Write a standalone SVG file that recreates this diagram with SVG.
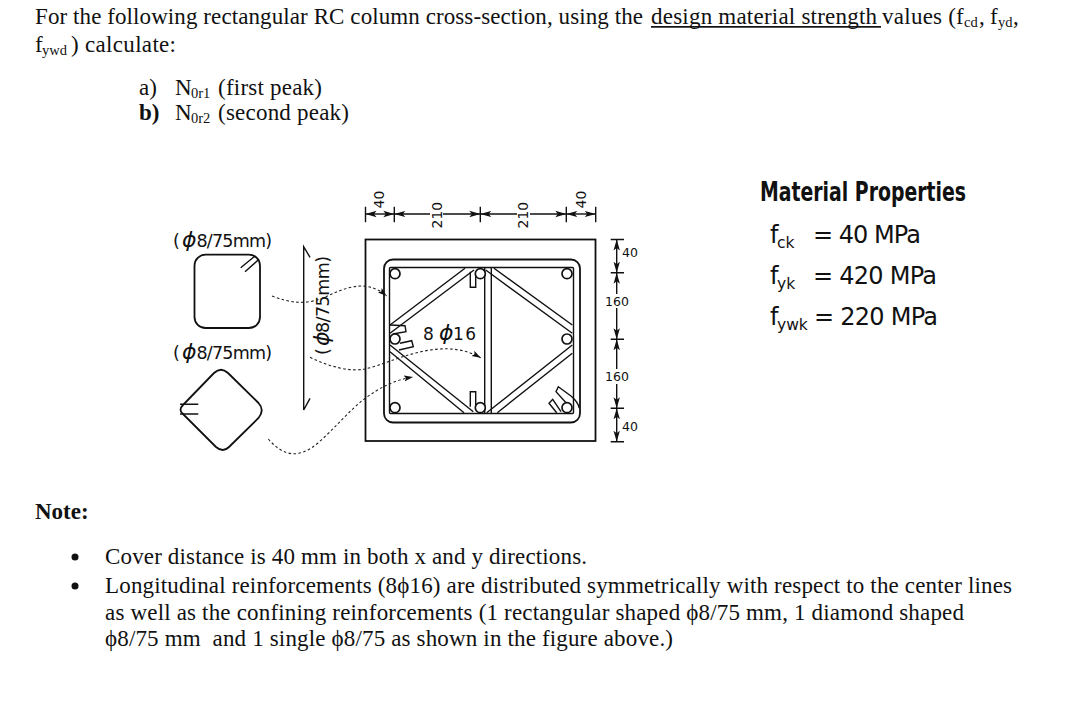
<svg xmlns="http://www.w3.org/2000/svg" width="1085" height="707" viewBox="0 0 1085 707">
<style>
.t{font-family:"Liberation Serif","Times New Roman",serif;font-size:23px;fill:#111}
.s{font-size:14.5px}
.b{font-weight:bold}
.d{font-family:"DejaVu Sans",sans-serif;fill:#111}
.dim{font-size:12.5px}
.dimv{font-size:14px}
.lab{font-size:17.5px}
.phi{font-size:22px;font-weight:200;font-style:italic}
.mp{font-size:24px}
.sub{font-size:15.5px}
.l{fill:none;stroke:#111;stroke-width:1.4}
.l2{fill:none;stroke:#111;stroke-width:1.8}
.dash{fill:none;stroke:#222;stroke-width:1.1;stroke-dasharray:2.6 2.4}
.bar{fill:#fff;stroke:#111;stroke-width:1.7}
</style>
<defs>
<marker id="ah" markerWidth="12" markerHeight="8" refX="11" refY="4" orient="auto-start-reverse" markerUnits="userSpaceOnUse"><path d="M0 0.8L11 4L0 7.2L2.5 4Z" fill="#111"/></marker>
<marker id="da" markerWidth="10" markerHeight="8" refX="9" refY="4" orient="auto" markerUnits="userSpaceOnUse"><path d="M0 1L9 4L0 7L2 4Z" fill="#111"/></marker>
</defs>
<rect width="1085" height="707" fill="#fff"/>
<g id="question">
<text class="t" x="35" y="24" textLength="608">For the following rectangular RC column cross-section, using the</text>
<text class="t" x="651" y="24" textLength="226">design material strength</text>
<text class="t" x="882" y="24" textLength="74">values (</text>
<text class="t" x="956" y="24">f</text>
<text class="t s" x="964" y="27">cd</text>
<text class="t" x="979" y="24">,</text>
<text class="t" x="990" y="24">f</text>
<text class="t s" x="998" y="27">yd</text>
<text class="t" x="1013" y="24">,</text>
<rect x="651" y="26" width="230" height="1.7" fill="#111"/>
<text class="t" x="35" y="52">f</text>
<text class="t s" x="42" y="55">ywd</text>
<text class="t" x="71" y="52" textLength="105">) calculate:</text>
<text class="t" x="139" y="95">a)</text>
<text class="t" x="175" y="95">N</text>
<text class="t s" x="191" y="98">0r1</text>
<text class="t" x="218" y="95" textLength="104">(first peak)</text>
<text class="t b" x="139" y="120">b)</text>
<text class="t" x="175" y="120">N</text>
<text class="t s" x="191" y="123">0r2</text>
<text class="t" x="218" y="120" textLength="131">(second peak)</text>
</g>
<g id="section">
<rect x="365.500" y="239.500" width="230" height="201.500" class="l2"/>
<rect x="384" y="259.500" width="196" height="163" rx="9" class="l2"/>
<rect x="389.500" y="267.500" width="184" height="146" rx="1" class="l"/>
<path class="l" d="M484.700 267.500V413.500M491.300 267.500V413.500"/>
<path class="l" d="M390 325L465 268.300M390 333.300L474 270M494 268.300L572.300 325M485.700 270L572.300 333.300"/>
<path class="l" d="M390 351.700L464 412.700M390 345L473.300 411.700M572.300 345L486.700 412.700M572.300 353.300L497.300 412.700"/>
<path class="l" d="M470.300 271.700V287.300H475.700V271.700M470.300 406.700V391.700H475.700V406.700"/>
<path class="l" d="M390 325L405 325.700L406 331.700L392.700 334M400 343.300L411.700 340.700L413.300 346.700L399 350"/>
<path class="l" d="M566 402.700L556 391.700L558.300 386.700L571 396Q578 402 579.300 408M561 411.700L552.700 399.300L549 403.300L556.700 412.700"/>
<circle class="bar" cx="395" cy="273.700" r="5"/>
<circle class="bar" cx="480.300" cy="273.700" r="5"/>
<circle class="bar" cx="567" cy="273.700" r="5"/>
<circle class="bar" cx="395" cy="339" r="5"/>
<circle class="bar" cx="567" cy="339" r="5"/>
<circle class="bar" cx="395" cy="407.700" r="5"/>
<circle class="bar" cx="480.300" cy="407.700" r="5"/>
<circle class="bar" cx="567" cy="407.700" r="5"/>
<text class="d" x="423" y="340" font-size="17">8</text>
<text class="d phi" x="439" y="340">ϕ</text>
<text class="d" x="453" y="340" font-size="17" textLength="23">16</text>
</g>
<g id="dimensions">
<path class="l" d="M365.500 206.700V222.300M394.300 206.700V222.300M480.300 206.700V222.300M566.300 206.700V222.300M595.700 206.700V222.300"/>
<path class="l" marker-start="url(#ah)" marker-end="url(#ah)" d="M365.500 214H394.300"/>
<path class="l" marker-start="url(#ah)" d="M394.300 214H430"/><path class="l" marker-end="url(#ah)" d="M443 214H480.300"/>
<path class="l" marker-start="url(#ah)" d="M480.300 214H517"/><path class="l" marker-end="url(#ah)" d="M530 214H566.300"/>
<path class="l" marker-start="url(#ah)" marker-end="url(#ah)" d="M566.300 214H595.700"/>
<path class="l" d="M610.700 239.500H624M610.700 272.700H624M610.700 339.300H624M610.700 408.300H624M610.700 441.700H624"/>
<path class="l" marker-start="url(#ah)" marker-end="url(#ah)" d="M616.700 239.500V272.700"/>
<path class="l" marker-start="url(#ah)" d="M616.700 272.700V294"/><path class="l" marker-end="url(#ah)" d="M616.700 308V339.300"/>
<path class="l" marker-start="url(#ah)" d="M616.700 339.300V369"/><path class="l" marker-end="url(#ah)" d="M616.700 384V408.300"/>
<path class="l" marker-start="url(#ah)" marker-end="url(#ah)" d="M616.700 408.300V441.700"/>
<text class="d dimv" transform="translate(384.300 208.500) rotate(-90)">40</text>
<text class="d dimv" transform="translate(441.700 228.500) rotate(-90)">210</text>
<text class="d dimv" transform="translate(528.300 228.500) rotate(-90)">210</text>
<text class="d dimv" transform="translate(585.700 208.500) rotate(-90)">40</text>
<text class="d dim" x="622" y="257">40</text>
<text class="d dim" x="605" y="306">160</text>
<text class="d dim" x="605" y="381">160</text>
<text class="d dim" x="622" y="431">40</text>
</g>
<g id="rect-tie">
<text class="d lab" x="173" y="246.500">(</text>
<text class="d phi" x="182" y="246.500">ϕ</text>
<text class="d lab" x="196.500" y="246.500" textLength="75.500">8/75mm)</text>
<rect x="194.500" y="254.700" width="65.500" height="73.300" rx="11" class="l2"/>
<path class="l" d="M240.700 267.700L255 256M245 271.700L259 259.300"/>
</g>
<g id="diamond-tie">
<text class="d lab" x="173" y="359">(</text>
<text class="d phi" x="182" y="359">ϕ</text>
<text class="d lab" x="196.500" y="359" textLength="75.500">8/75mm)</text>
<path class="l2" d="M214 373Q221 366.500 228 373L258.500 403Q265 410 258.500 418L229 447Q223 453 216 447L183 414Q178 410 183 405Z"/>
<path class="l" d="M180 404.300H198.300M180 414H198.300"/>
</g>
<g id="single-tie">
<path class="l" d="M310 257.300L303.700 246.700V410L310 398.300"/>
<text class="d lab" transform="translate(329 355) rotate(-90)">(</text>
<text class="d phi" transform="translate(329 346) rotate(-90)">ϕ</text>
<text class="d lab" transform="translate(329 333) rotate(-90)" textLength="77">8/75mm)</text>
</g>
<g id="connectors">
<path class="dash" marker-end="url(#da)" d="M272 296C290 303 305 305 323 298C345 288 365 278 386.700 296"/>
<path class="dash" marker-end="url(#da)" d="M310 357.300C330 367 350 372 365 369C395 362 440 335 480.700 357.700"/>
<path class="dash" marker-end="url(#da)" d="M268.300 439C285 458 300 458 318 443C335 428 350 410 363 400C380 387 395 380 413 377"/>
</g>
<g id="properties">
<text class="d" x="760" y="200.500" font-size="26" font-weight="bold" textLength="206" lengthAdjust="spacingAndGlyphs">Material Properties</text>
<text class="d mp" x="770" y="243">f</text><text class="d sub" x="777" y="248">ck</text>
<text class="d mp" x="813" y="243" textLength="108">= 40 MPa</text>
<text class="d mp" x="770" y="284">f</text><text class="d sub" x="777" y="289">yk</text>
<text class="d mp" x="813" y="284" textLength="124">= 420 MPa</text>
<text class="d mp" x="770" y="325">f</text><text class="d sub" x="777" y="330">ywk</text>
<text class="d mp" x="814" y="325" textLength="124">= 220 MPa</text>
</g>
<g id="note">
<text class="t b" x="35" y="519">Note:</text>
<circle cx="75" cy="557" r="3.500" fill="#111"/>
<circle cx="75" cy="586" r="3.500" fill="#111"/>
<text class="t" x="105" y="564" textLength="482">Cover distance is 40 mm in both x and y directions.</text>
<text class="t" x="105" y="593" textLength="907">Longitudinal reinforcements (8ϕ16) are distributed symmetrically with respect to the center lines</text>
<text class="t" x="105" y="620" textLength="859">as well as the confining reinforcements (1 rectangular shaped ϕ8/75 mm, 1 diamond shaped</text>
<text class="t" x="105" y="646" textLength="568" xml:space="preserve">ϕ8/75 mm  and 1 single ϕ8/75 as shown in the figure above.)</text>
</g>
</svg>
